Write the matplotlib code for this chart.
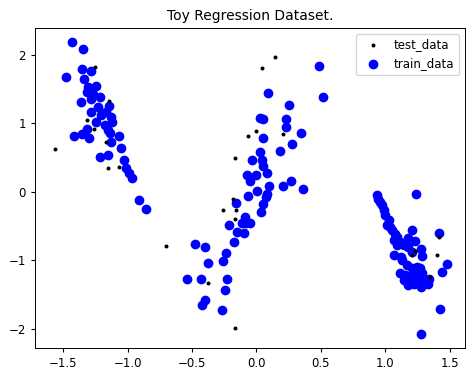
import matplotlib
matplotlib.use("Agg")
import matplotlib.pyplot as plt
import numpy as np

# training points (x, y)
train_x = [
    -1.434, -1.348, -1.353, -1.286, -1.480, -1.340, -1.309, -1.244, -1.317, -1.270,
    -1.218, -1.283, -1.360, -1.146, -1.231, -1.283, -1.166, -1.205, -1.127, -1.244,
    -1.119, -1.179, -1.153, -1.317, -1.140, -1.068, -1.420, -1.353, -1.301, -1.127,
    -1.054, -1.153, -1.218, -1.031, -1.010, -0.990, -0.967, -0.914, -0.860,
    0.486, 0.518, 0.092, 0.255, 0.027, 0.053, 0.227, 0.227, 0.344, 0.053,
    0.276, 0.180, 0.027, -0.035, 0.043, 0.048, 0.079, -0.076, -0.006, -0.051,
    0.095, 0.209, 0.271, 0.362, 0.001, -0.064, 0.082, 0.074, 0.051, -0.162,
    0.037, -0.090, -0.051, -0.115, -0.084, -0.217, -0.149, -0.095, -0.175, -0.481,
    -0.398, -0.237, -0.380, -0.263, -0.541, -0.434, -0.230, -0.245, -0.403, -0.426,
    -0.271,
    1.236, 0.935, 0.948, 0.961, 0.974, 0.987, 1.000, 1.026, 1.013, 1.039,
    1.052, 1.208, 1.078, 1.415, 1.091, 1.065, 1.174, 1.117, 1.233, 1.143,
    1.091, 1.181, 1.278, 1.208, 1.070, 1.122, 1.283, 1.480, 1.444, 1.130,
    1.169, 1.247, 1.272, 1.208, 1.117, 1.156, 1.208, 1.247, 1.286, 1.143,
    1.195, 1.233, 1.272, 1.342, 1.332, 1.181, 1.220, 1.280, 1.428, 1.275,
]
train_y = [
    2.19, 2.08, 1.79, 1.76, 1.67, 1.64, 1.53, 1.54, 1.46, 1.43,
    1.38, 1.35, 1.31, 1.25, 1.23, 1.16, 1.16, 1.12, 1.09, 1.02,
    1.02, 0.97, 0.90, 0.92, 0.85, 0.81, 0.82, 0.84, 0.78, 0.73,
    0.64, 0.54, 0.51, 0.46, 0.34, 0.27, 0.20, -0.12, -0.25,
    1.84, 1.38, 1.44, 1.26, 1.07, 1.06, 1.06, 0.94, 0.86, 0.79,
    0.69, 0.60, 0.58, 0.46, 0.46, 0.37, 0.27, 0.24, 0.24, 0.16,
    0.08, 0.09, 0.16, 0.04, 0.01, -0.06, -0.04, -0.08, -0.18, -0.17,
    -0.29, -0.37, -0.45, -0.46, -0.46, -0.48, -0.59, -0.60, -0.74, -0.76,
    -0.81, -0.89, -1.04, -1.01, -1.27, -1.28, -1.28, -1.44, -1.58, -1.65,
    -1.73,
    -0.04, -0.05, -0.10, -0.15, -0.20, -0.26, -0.34, -0.42, -0.49, -0.51,
    -0.56, -0.56, -0.61, -0.60, -0.66, -0.71, -0.67, -0.73, -0.72, -0.78,
    -0.78, -0.81, -0.83, -0.88, -0.92, -0.95, -0.94, -1.06, -1.17, -1.00,
    -1.07, -1.10, -1.12, -1.12, -1.19, -1.22, -1.22, -1.22, -1.19, -1.29,
    -1.29, -1.29, -1.29, -1.27, -1.34, -1.36, -1.35, -1.39, -1.71, -2.07,
]

# test points (x, y)
test_x = [
    -1.257, -1.148, -1.319, -1.265, -1.166, -1.568, -1.156, -1.068,
    0.146, 0.040, -0.001, -0.069, 0.209, -0.170, -0.183, -0.258, -0.162, -0.170,
    -0.704, -0.377, -0.167,
    1.418, 1.233, 1.208, 1.405, 1.350,
]
test_y = [
    1.82, 1.33, 1.04, 0.91, 0.72, 0.63, 0.35, 0.36,
    1.97, 1.80, 0.89, 0.81, 0.84, 0.49, -0.11, -0.27, -0.27, -0.40,
    -0.79, -1.33, -1.99,
    -0.66, -0.86, -0.92, -0.93, -1.24,
]

fig = plt.figure(figsize=(4.74, 3.77), dpi=100)
ax = fig.add_axes([0.074, 0.077, 0.907, 0.849])

ax.scatter(test_x, test_y, c="k", s=3.5, label="test_data", zorder=3)
ax.scatter(train_x, train_y, c="blue", s=36, label="train_data", zorder=2)

ax.set_xlim(-1.72, 1.62)
ax.set_ylim(-2.28, 2.39)
ax.set_title("Toy Regression Dataset.", fontsize=10)
ax.tick_params(labelsize=8.5, length=3, width=0.8)
for sp in ax.spines.values():
    sp.set_linewidth(0.7)
ax.legend(loc="upper right", fontsize=8.5)

fig.savefig("out.png", dpi=100)
